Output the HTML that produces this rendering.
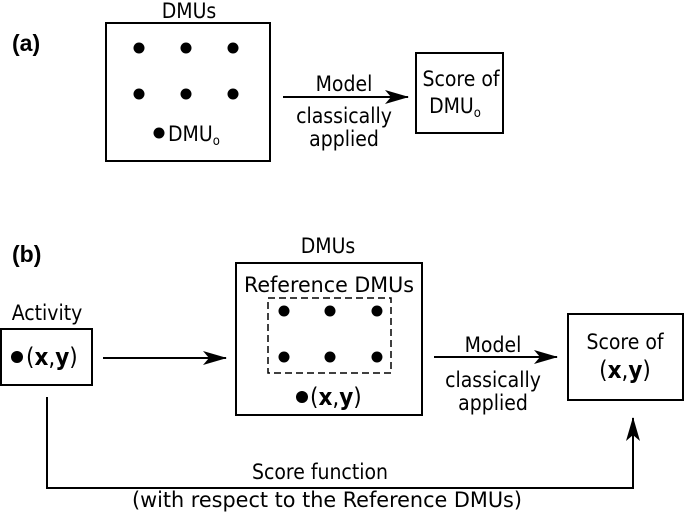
<!DOCTYPE html>
<html><head><meta charset="utf-8"><style>
html,body{margin:0;padding:0;background:#fff;}
svg{display:block;}
text{font-family:"DejaVu Sans Condensed","DejaVu Sans","Liberation Sans",sans-serif;font-size:21px;fill:#000;}
.xy{font-size:24px;}
</style></head><body>
<svg width="685" height="514" viewBox="0 0 685 514" xmlns="http://www.w3.org/2000/svg">
<defs><marker id="ah" markerWidth="24" markerHeight="14" refX="23" refY="7" orient="auto" markerUnits="userSpaceOnUse"><path d="M0,0 L24,7 L0,14 L6,7 Z" fill="#000"/></marker></defs>
<!-- (a) -->
<text x="12" y="51" style="font-family:'Liberation Sans',sans-serif;font-weight:bold;font-size:23px">(a)</text>
<text x="189" y="18" text-anchor="middle">DMUs</text>
<rect x="106" y="23" width="164" height="138" fill="none" stroke="#000" stroke-width="2"/>
<g fill="#000">
<circle cx="139" cy="48" r="5.5"/><circle cx="186" cy="48" r="5.5"/><circle cx="233" cy="48" r="5.5"/>
<circle cx="139" cy="94" r="5.5"/><circle cx="186" cy="94" r="5.5"/><circle cx="233" cy="94" r="5.5"/>
<circle cx="159" cy="133" r="5.5"/>
</g>
<text x="168" y="141">DMU<tspan font-size="13" dy="4">o</tspan></text>
<line x1="283" y1="97" x2="408" y2="97" stroke="#000" stroke-width="2" marker-end="url(#ah)"/>
<text x="344" y="91" text-anchor="middle">Model</text>
<text x="344" y="123" text-anchor="middle">classically</text>
<text x="344" y="146" text-anchor="middle">applied</text>
<rect x="416" y="53" width="87" height="80" fill="none" stroke="#000" stroke-width="2"/>
<text x="461" y="86" text-anchor="middle">Score of</text>
<text x="455" y="113" text-anchor="middle">DMU<tspan font-size="13" dy="4">o</tspan></text>
<!-- (b) -->
<text x="12" y="262" style="font-family:'Liberation Sans',sans-serif;font-weight:bold;font-size:23px">(b)</text>
<text x="328" y="253" text-anchor="middle">DMUs</text>
<rect x="236" y="263" width="186" height="152" fill="none" stroke="#000" stroke-width="2"/>
<text x="329" y="292" text-anchor="middle" textLength="170" lengthAdjust="spacingAndGlyphs">Reference DMUs</text>
<rect x="268" y="298" width="123" height="75" fill="none" stroke="#000" stroke-width="1.5" stroke-dasharray="7,4"/>
<g fill="#000">
<circle cx="284" cy="311" r="5.5"/><circle cx="330" cy="311" r="5.5"/><circle cx="377" cy="311" r="5.5"/>
<circle cx="284" cy="357" r="5.5"/><circle cx="330" cy="357" r="5.5"/><circle cx="377" cy="357" r="5.5"/>
<circle cx="302" cy="397" r="6"/>
</g>
<text class="xy" x="310" y="405">(<tspan font-weight="bold">x</tspan>,<tspan font-weight="bold">y</tspan>)</text>
<text x="47" y="320" text-anchor="middle">Activity</text>
<rect x="1" y="329" width="91" height="56" fill="none" stroke="#000" stroke-width="2"/>
<circle cx="17" cy="357" r="6" fill="#000"/>
<text class="xy" x="26" y="365">(<tspan font-weight="bold">x</tspan>,<tspan font-weight="bold">y</tspan>)</text>
<line x1="103" y1="358" x2="226" y2="358" stroke="#000" stroke-width="2" marker-end="url(#ah)"/>
<line x1="434" y1="357" x2="557" y2="357" stroke="#000" stroke-width="2" marker-end="url(#ah)"/>
<text x="493" y="352" text-anchor="middle">Model</text>
<text x="493" y="387" text-anchor="middle">classically</text>
<text x="493" y="410" text-anchor="middle">applied</text>
<rect x="568" y="314" width="115" height="86" fill="none" stroke="#000" stroke-width="2"/>
<text x="625" y="349" text-anchor="middle">Score of</text>
<text class="xy" x="625" y="378" text-anchor="middle">(<tspan font-weight="bold">x</tspan>,<tspan font-weight="bold">y</tspan>)</text>
<polyline points="47,397 47,488 633,488 633,418" fill="none" stroke="#000" stroke-width="2" marker-end="url(#ah)"/>
<text x="320" y="479" text-anchor="middle">Score function</text>
<text x="327" y="507" text-anchor="middle" textLength="390" lengthAdjust="spacingAndGlyphs">(with respect to the Reference DMUs)</text>
</svg>
</body></html>
